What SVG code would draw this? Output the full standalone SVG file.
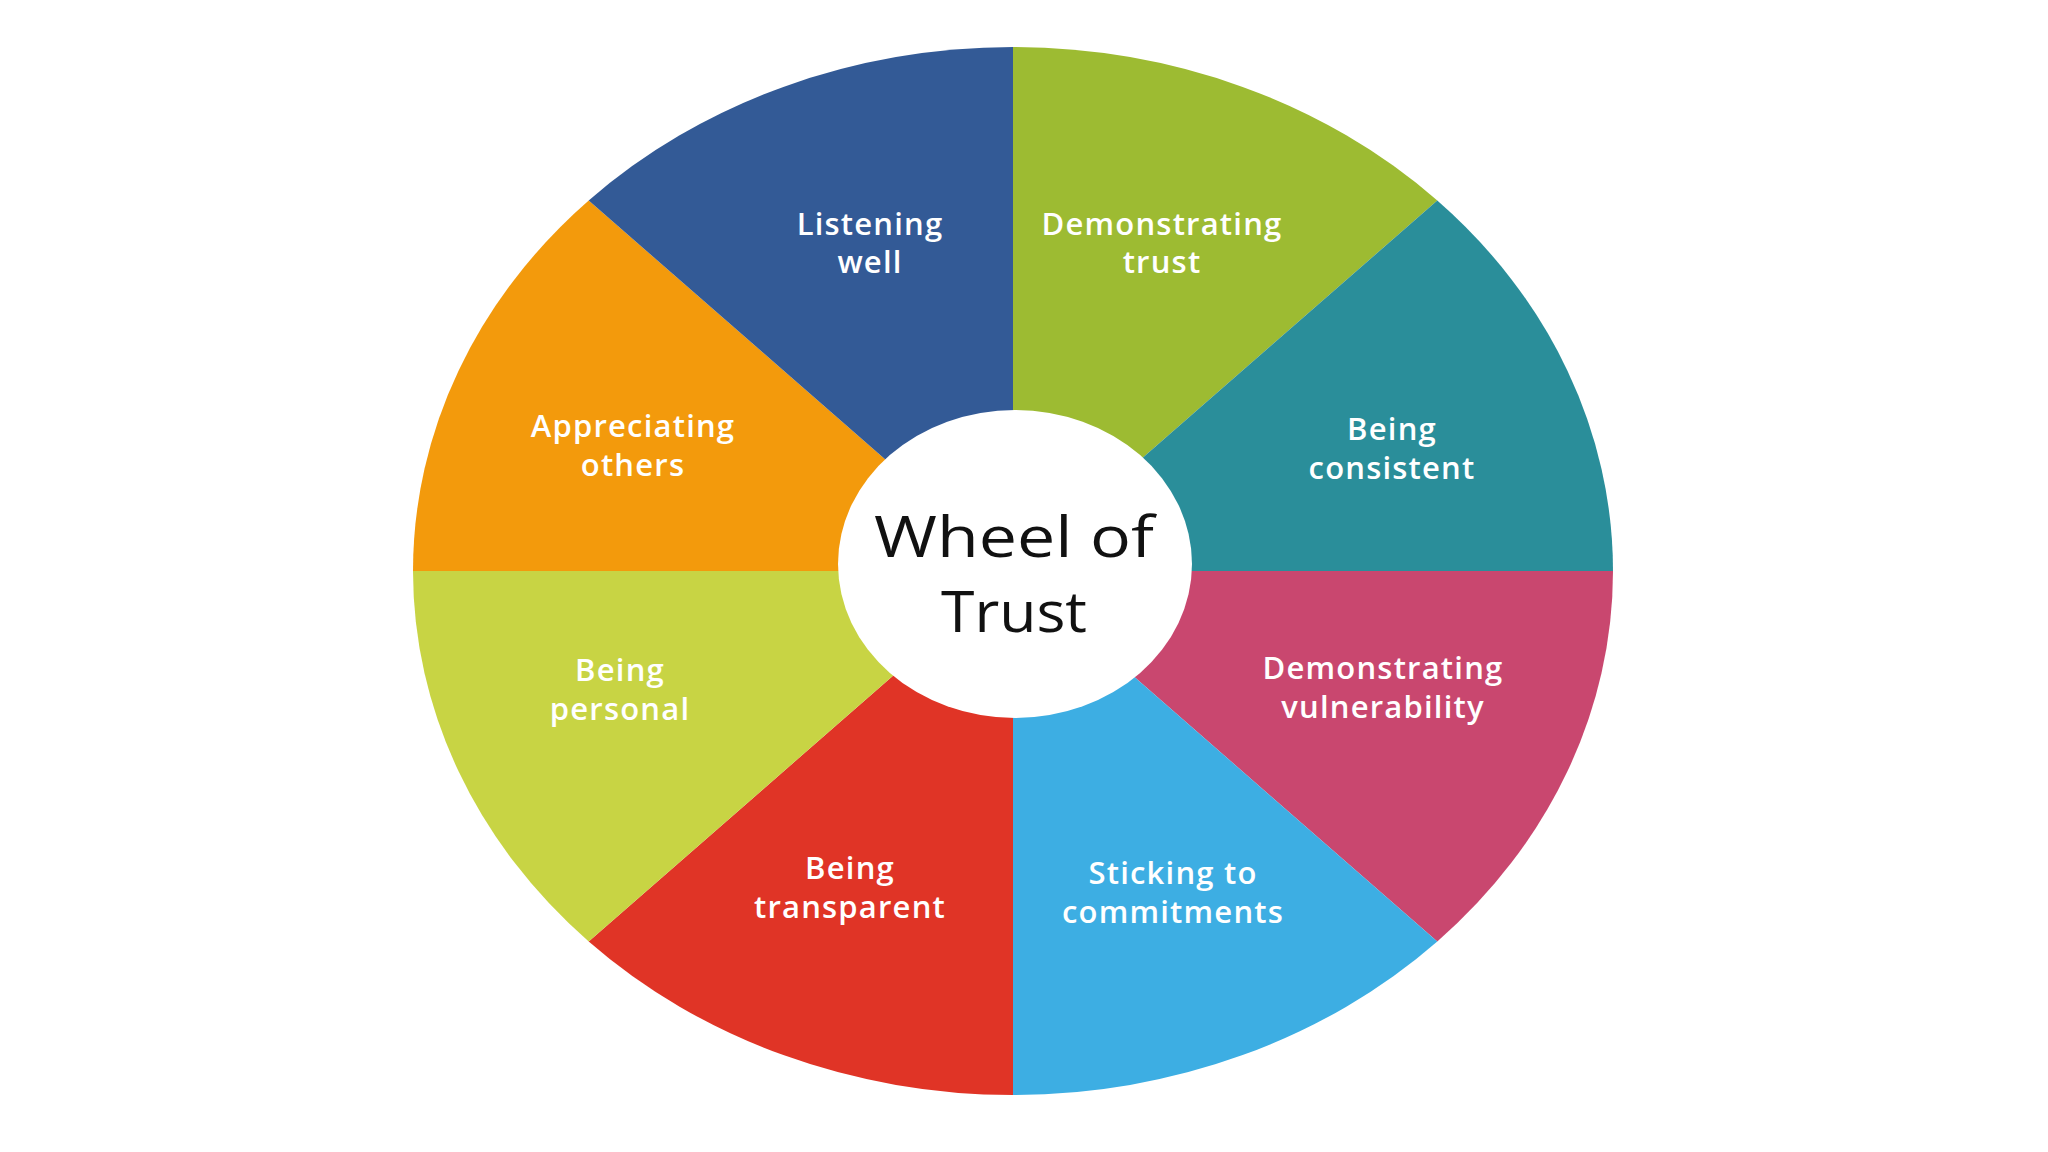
<svg xmlns="http://www.w3.org/2000/svg" width="2048" height="1152" viewBox="0 0 2048 1152">
<style>
.lbl{font-family:"Open Sans","Liberation Sans",sans-serif;font-weight:600;font-size:31px;letter-spacing:1.2px;fill:#ffffff;text-anchor:middle}
.ttl{font-family:"Open Sans","Liberation Sans",sans-serif;font-weight:400;font-size:56px;fill:#111111;text-anchor:middle}
</style>
<rect width="2048" height="1152" fill="#ffffff"/>
<g id="seg-demonstrating-trust">
<path d="M1013 571 L1013 47 A600 524 0 0 1 1437.3 200.5 Z" fill="#9DBB32"/>
<text class="lbl" x="1162" y="235">Demonstrating</text><text class="lbl" x="1162" y="273">trust</text>
</g>
<g id="seg-being-consistent">
<path d="M1013 571 L1437.3 200.5 A600 524 0 0 1 1613 571 Z" fill="#2A8E9A"/>
<text class="lbl" x="1392" y="440">Being</text><text class="lbl" x="1392" y="479">consistent</text>
</g>
<g id="seg-demonstrating-vulnerability">
<path d="M1013 571 L1613 571 A600 524 0 0 1 1437.3 941.5 Z" fill="#C9476F"/>
<text class="lbl" x="1383" y="679">Demonstrating</text><text class="lbl" x="1383" y="718">vulnerability</text>
</g>
<g id="seg-sticking-to-commitments">
<path d="M1013 571 L1437.3 941.5 A600 524 0 0 1 1013 1095 Z" fill="#3DAEE3"/>
<text class="lbl" x="1173" y="884">Sticking to</text><text class="lbl" x="1173" y="923">commitments</text>
</g>
<g id="seg-being-transparent">
<path d="M1013 571 L1013 1095 A600 524 0 0 1 588.7 941.5 Z" fill="#E03426"/>
<text class="lbl" x="850" y="879">Being</text><text class="lbl" x="850" y="918">transparent</text>
</g>
<g id="seg-being-personal">
<path d="M1013 571 L588.7 941.5 A600 524 0 0 1 413 571 Z" fill="#C8D444"/>
<text class="lbl" x="620" y="681">Being</text><text class="lbl" x="620" y="720">personal</text>
</g>
<g id="seg-appreciating-others">
<path d="M1013 571 L413 571 A600 524 0 0 1 588.7 200.5 Z" fill="#F39A0C"/>
<text class="lbl" x="633" y="437">Appreciating</text><text class="lbl" x="633" y="476">others</text>
</g>
<g id="seg-listening-well">
<path d="M1013 571 L588.7 200.5 A600 524 0 0 1 1013 47 Z" fill="#335A96"/>
<text class="lbl" x="870" y="235">Listening</text><text class="lbl" x="870" y="273">well</text>
</g>
<g id="hub">
<ellipse cx="1015" cy="564" rx="177" ry="154" fill="#ffffff"/>
<text class="ttl" x="1014" y="557" textLength="280" lengthAdjust="spacingAndGlyphs">Wheel of</text>
<text class="ttl" x="1014" y="632" textLength="146" lengthAdjust="spacingAndGlyphs">Trust</text>
</g>
<g id="connectors"></g>
</svg>
